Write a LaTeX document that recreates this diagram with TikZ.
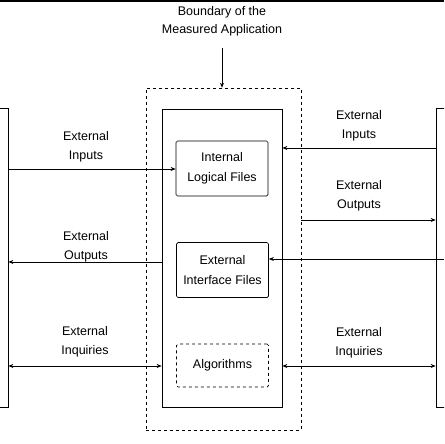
\documentclass[tikz,border=0pt]{standalone}
\usepackage{fontspec}
\setmainfont{Liberation Sans}
\usetikzlibrary{arrows.meta}

\begin{document}
\begin{tikzpicture}[
    x=1pt, y=-1pt,
    line width=0.7pt,
    appbox/.style={
        draw,
        minimum width=120pt,
        minimum height=298pt,
        inner sep=0pt
    },
    filebox/.style={
        draw,
        rounded corners=1.5pt,
        minimum width=92pt,
        minimum height=55pt,
        align=center,
        font=\fontsize{12.5}{20}\selectfont
    },
    extbox/.style={
        draw,
        minimum width=40pt,
        minimum height=299pt,
        inner sep=0pt
    },
    flowlabel/.style={
        align=center,
        font=\fontsize{12.5}{19}\selectfont
    },
    >={Stealth[length=5pt,width=4pt]}
]
\useasboundingbox (0,0) rectangle (444,444);
\clip (0,0) rectangle (444,444);

\draw[line width=2.5pt] (0,1) -- (444,1);

% the application and its boundary
\node[draw, dashed, line width=0.6pt, minimum width=155pt, minimum height=342pt] (bnd) at (223.5,259) {};
\node[appbox] (app) at (222,258) {};
\node[filebox] (ilf) at (222,168.5) {Internal\\Logical Files};
\node[filebox] (eif) at (222.5,270) {External\\Interface Files};
\node[filebox, dashed, minimum height=43pt] (alg) at (222.5,365.5) {Algorithms};

% users and other applications
\node[extbox] (left) at (-12,258) {};
\node[extbox] (right) at (456,258) {};

\node[flowlabel, font=\fontsize{12.5}{18}\selectfont] (title) at (222,21) {Boundary of the\\Measured Application};
\draw[->] (title.south |- 0,48) -- (title.south |- bnd.north);

% rows of the flows
\coordinate (rowLi) at (0,169);
\coordinate (rowLo) at (0,262);
\coordinate (rowRi) at (0,148);
\coordinate (rowRo) at (0,220);
\coordinate (rowEi) at (444,259);
\coordinate (rowQ) at (0,366);

\node[flowlabel] (liLbl) at (86,147) {External\\Inputs};
\node[flowlabel] (loLbl) at (86,247) {External\\Outputs};
\node[flowlabel] (lqLbl) at (85,342) {External\\Inquiries};
\node[flowlabel] (riLbl) at (359,126) {External\\Inputs};
\node[flowlabel] (roLbl) at (359,196) {External\\Outputs};
\node[flowlabel] (rqLbl) at (359,343) {External\\Inquiries};

\draw[->] (left.east |- rowLi) -- (ilf.west |- rowLi);
\draw[->] (app.west |- rowLo) -- (left.east |- rowLo);
\draw[<->] (left.east |- rowQ) -- (app.west |- rowQ);
\draw[->] (right.west |- rowRi) -- (app.east |- rowRi);
\draw[->] (bnd.east |- rowRo) -- (right.west |- rowRo);
\draw[->] (rowEi) -- (eif.east |- rowEi);
\draw[<->] (app.east |- rowQ) -- (right.west |- rowQ);

\end{tikzpicture}
\end{document}
